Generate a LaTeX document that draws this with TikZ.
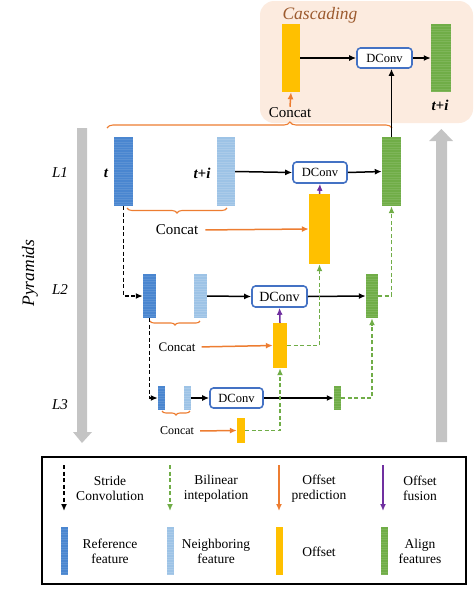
\documentclass[tikz,border=0pt]{standalone}
\usepackage{fontspec}
\setmainfont{Liberation Serif}
\usetikzlibrary{arrows.meta,decorations.pathreplacing}
\definecolor{refblue}{HTML}{4A86D0}
\definecolor{nbblue}{HTML}{9DC3E6}
\definecolor{offyel}{HTML}{FFC000}
\definecolor{aligngr}{HTML}{70AD47}
\definecolor{orng}{HTML}{ED7D31}
\definecolor{purp}{HTML}{7030A0}
\definecolor{dcblue}{HTML}{4472C4}
\definecolor{casfill}{HTML}{FCEBDF}
\definecolor{castext}{HTML}{9C5A2E}
\definecolor{grayarr}{HTML}{C4C4C4}
\tikzset{
  bar/.style={rectangle,inner sep=0pt,draw=none},
  stripes/.style={path picture={\foreach \k in {1,...,40}{\draw[white,opacity=#1,line width=0.5pt] ([yshift=-\k*2.5pt]path picture bounding box.north west) -- ([yshift=-\k*2.5pt]path picture bounding box.north east);}}},
  refbar/.style={bar,fill=refblue,stripes=0.1},
  nbbar/.style={bar,fill=nbblue,stripes=0.15},
  grbar/.style={bar,fill=aligngr,stripes=0.1},
  ylbar/.style={bar,fill=offyel},
  dconv/.style={draw=dcblue,line width=1.6pt,rounded corners=3.5pt,fill=white,inner sep=0pt,font=\fontsize{12.5}{12.5}\selectfont},
  lbl/.style={inner sep=1pt,font=\fontsize{15}{15}\selectfont\itshape},
  bil/.style={inner sep=1pt,font=\fontsize{15}{15}\selectfont\bfseries\itshape},
  txt/.style={inner sep=1pt},
  tip/.style={-{Latex[length=7pt,width=6pt]}},
  blk/.style={tip,line width=1.5pt,black},
  strd/.style={tip,line width=1.5pt,black,dash pattern=on 4pt off 2.5pt},
  bili/.style={tip,line width=1.5pt,aligngr,dash pattern=on 4pt off 2.5pt},
  offp/.style={tip,line width=1.5pt,orng},
  offf/.style={tip,line width=1.5pt,purp},
  brc/.style={draw=orng,line width=1.1pt,decorate},
  legt/.style={align=center,inner sep=0pt,font=\fontsize{13.5}{15.5}\selectfont},
}
\begin{document}
\begin{tikzpicture}[x=1pt,y=-1pt]
\useasboundingbox (0,0) rectangle (474,611);
% cascading background
\fill[casfill,rounded corners=14pt] (260,1) rectangle (473,123);
\node[txt,text=castext,font=\fontsize{17.5}{17.5}\selectfont\itshape] (cas) at (320,15) {Cascading};
% gray pyramid arrows
\fill[grayarr] (77,128) -- (87,128) -- (87,432) -- (92,432) -- (82,443) -- (73,432) -- (77,432) -- cycle;
\fill[grayarr] (436,442) -- (447,442) -- (447,141) -- (453,141) -- (441.5,129) -- (429,141) -- (436,141) -- cycle;
\node[lbl,rotate=90,font=\fontsize{17.5}{17.5}\selectfont\itshape] (pyr) at (30,273) {Pyramids};
% level labels
\node[lbl] (L1) at (60,173) {L1};
\node[lbl] (L2) at (60,290) {L2};
\node[lbl] (L3) at (60,405) {L3};
% top cascading
\node[ylbar,minimum width=18pt,minimum height=68pt] (ylT) at (291,58) {};
\node[dconv,minimum width=55pt,minimum height=20pt] (dcT) at (384.5,58) {DConv};
\node[grbar,minimum width=20pt,minimum height=68pt] (grT) at (441,58) {};
\node[bil] (tiT) at (440,105) {t+i};
\node[txt,font=\fontsize{15}{15}\selectfont] (cT) at (290,113) {Concat};
% L1
\node[refbar,minimum width=19pt,minimum height=69pt] (ref1) at (123.5,171.5) {};
\node[nbbar,minimum width=18pt,minimum height=69pt] (nb1) at (226,171.5) {};
\node[dconv,minimum width=54pt,minimum height=21pt] (dc1) at (320,172.5) {DConv};
\node[grbar,minimum width=19pt,minimum height=69pt] (gr1) at (391.5,171.5) {};
\node[ylbar,minimum width=21pt,minimum height=70pt] (yl1) at (319.5,229) {};
\node[bil] (t1) at (106,173) {t};
\node[bil] (ti1) at (202,173) {t+i};
\node[txt,font=\fontsize{15}{15}\selectfont] (c1) at (177,230) {Concat};
% L2
\node[refbar,minimum width=13pt,minimum height=44pt] (ref2) at (149.5,296) {};
\node[nbbar,minimum width=13pt,minimum height=44pt] (nb2) at (200.5,296) {};
\node[dconv,minimum width=55pt,minimum height=21pt,font=\fontsize{14}{14}\selectfont] (dc2) at (279.5,296.5) {DConv};
\node[grbar,minimum width=12pt,minimum height=44pt] (gr2) at (372,296) {};
\node[ylbar,minimum width=14pt,minimum height=45pt] (yl2) at (280,345.5) {};
\node[txt,font=\fontsize{13}{13}\selectfont] (c2) at (177,347) {Concat};
% L3
\node[refbar,minimum width=7pt,minimum height=24pt] (ref3) at (161.5,398) {};
\node[nbbar,minimum width=7pt,minimum height=24pt] (nb3) at (187.5,398) {};
\node[dconv,minimum width=53pt,minimum height=20pt] (dc3) at (236.5,398) {DConv};
\node[grbar,minimum width=7pt,minimum height=24pt] (gr3) at (337.5,398) {};
\node[ylbar,minimum width=8pt,minimum height=25pt] (yl3) at (241,430.5) {};
\node[txt,font=\fontsize{12}{12}\selectfont] (c3) at (177,431) {Concat};
% braces
\coordinate (bA) at (107,128);
\coordinate (bB) at (392,128);
\draw[brc,decoration={brace,amplitude=6pt,aspect=0.642}] (bA) -- (bB);
\coordinate (s1a) at (127,208);
\coordinate (s1b) at (227,208);
\draw[brc,decoration={brace,amplitude=5pt}] (s1b) -- (s1a);
\coordinate (s2a) at (150,321);
\coordinate (s2b) at (200,321);
\draw[brc,decoration={brace,amplitude=4pt}] (s2b) -- (s2a);
\coordinate (s3a) at (162,411);
\coordinate (s3b) at (190,411);
\draw[brc,decoration={brace,amplitude=4pt}] (s3b) -- (s3a);
% main black arrows
\draw[blk] (ylT.east) -- (dcT.west);
\draw[blk] (dcT.east) -- (grT.west);
\draw[blk] (gr1.north) -- (gr1.north |- dcT.south);
\draw[blk] (nb1.east) -- (dc1.west);
\draw[blk] (dc1.east) -- (gr1.west);
\draw[blk] (nb2.east) -- (dc2.west);
\draw[blk] (dc2.east) -- (gr2.west);
\draw[blk] (nb3.east) -- (dc3.west);
\draw[blk] (dc3.east) -- (gr3.west);
% stride convolution
\draw[strd] (ref1.south) |- (ref2.west);
\draw[strd] (ref2.south) |- (ref3.west);
% bilinear
\draw[bili] (gr2.east) -| (gr1.south);
\draw[bili] (gr3.east) -| (gr2.south);
\draw[bili] (yl2.east) -| (yl1.south);
\draw[bili] (yl3.east) -| (yl2.south);
% offset prediction
\draw[offp] (cT.north) -- (ylT.south);
\draw[offp,shorten <=6pt] (c1.east) -- (yl1.west);
\draw[offp,shorten <=5pt] (c2.east) -- (yl2.west);
\draw[offp,shorten <=5pt] (c3.east) -- (yl3.west);
% offset fusion
\draw[offf] (yl1.north) -- (dc1.south);
\draw[offf] (yl2.north) -- (dc2.south);
% legend
\node[draw=black,line width=1.8pt,minimum width=424pt,minimum height=127pt,inner sep=0pt] (leg) at (254,520.5) {};
\coordinate (la1) at (64,465); \coordinate (lb1) at (64,511);
\coordinate (la2) at (170,465); \coordinate (lb2) at (170,511);
\coordinate (la3) at (279,465); \coordinate (lb3) at (279,511);
\coordinate (la4) at (383,465); \coordinate (lb4) at (383,511);
\draw[strd] (la1) -- (lb1);
\draw[bili] (la2) -- (lb2);
\draw[offp] (la3) -- (lb3);
\draw[offf] (la4) -- (lb4);
\node[legt] (lt1) at (110,488.5) {Stride\\Convolution};
\node[legt] (lt2) at (216,488.5) {Bilinear\\intepolation};
\node[legt] (lt3) at (319,488.5) {Offset\\prediction};
\node[legt] (lt4) at (420,488.5) {Offset\\fusion};
\node[refbar,minimum width=7pt,minimum height=48pt] (lr1) at (64.5,551) {};
\node[nbbar,minimum width=7pt,minimum height=48pt] (lr2) at (170,551) {};
\node[ylbar,minimum width=7pt,minimum height=48pt] (lr3) at (279.5,551) {};
\node[grbar,minimum width=7pt,minimum height=48pt] (lr4) at (384,551) {};
\node[legt] (lu1) at (110,551.5) {Reference\\feature};
\node[legt] (lu2) at (216,551.5) {Neighboring\\feature};
\node[legt] (lu3) at (319,552) {Offset};
\node[legt] (lu4) at (420,551.5) {Align\\features};
\end{tikzpicture}
\end{document}
